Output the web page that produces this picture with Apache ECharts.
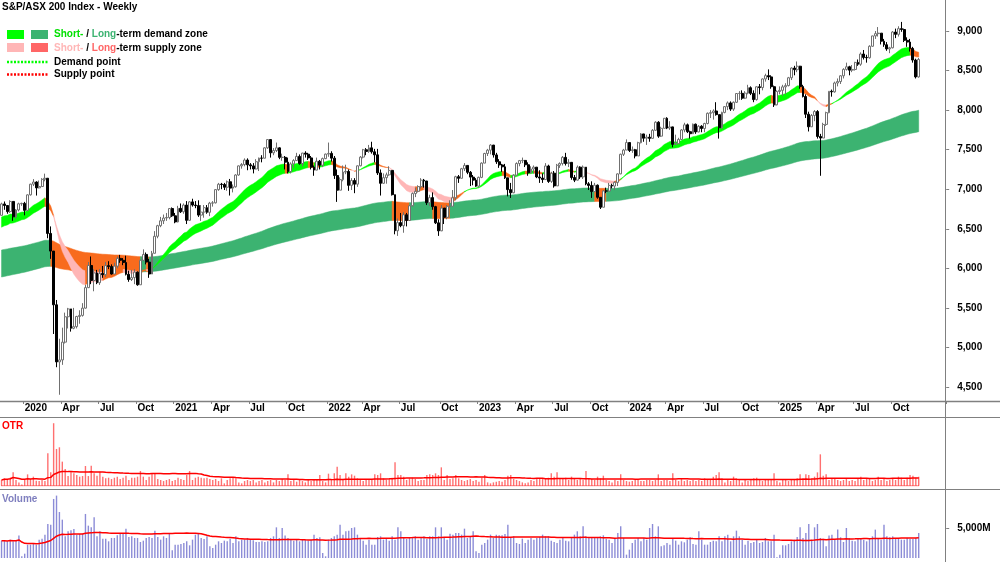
<!DOCTYPE html>
<html><head><meta charset="utf-8">
<script src="https://cdn.jsdelivr.net/npm/echarts@6/dist/echarts.min.js"></script>
<style>html,body{margin:0;padding:0;background:#fff}#c{width:1000px;height:562px}</style>
</head><body><div id="c"></div>
<script>
// ---------------- DATA ----------------
const firstWeek = Date.UTC(2019, 10, 8);   // week ending Fri 8 Nov 2019
const axisSlots = 327;                     // weekly slots on the time axis (incl. blank right margin)
const firstOpen = 6670;

const close = [
6814,6794,6717,6846,6651,6738,6816,6821,
6733,6929,7064,7091,7017,7034,7125,7139,6441,6218,5539,4817,4842,
5067,5388,5487,5242,5263,5391,5405,5497,5756,6036,5847,5942,5818,
5934,5920,6034,6023,5928,6028,6126,6102,6073,5925,5859,5882,5952,
5792,6102,6176,6079,5928,6190,6405,6539,6601,6636,6643,6756,6664,6587,
6758,6715,6800,6607,6840,6800,6793,6673,6711,6767,6708,6824,6828,
6995,7063,7060,7025,7094,7014,7031,7180,7295,7312,7369,7308,
7295,7256,7348,7393,7392,7523,7628,7460,7489,7523,7403,7403,7342,
7223,7320,7362,7415,7324,7457,7443,7396,7279,7242,7354,7304,7387,7444,
7453,7393,7173,6988,7121,7217,7225,7049,7110,7064,7296,7406,
7499,7478,7523,7473,7435,7206,7075,7146,7182,7238,6931,6475,6578,
6539,6677,6605,6791,6945,6974,7033,7115,7104,6829,6894,6780,6575,6474,
6762,6645,6784,6785,6892,7158,7138,7259,7301,7214,7153,7115,7039,
7150,7330,7452,7494,7558,7434,7347,7307,7283,7144,6995,6955,7178,
7325,7362,7364,7309,7207,7256,7279,7155,7141,7122,7294,7099,7203,
7042,7303,7325,7403,7325,7340,7148,7115,7279,7156,7279,7068,7048,
6970,7051,6898,6772,6978,6977,7049,7040,7087,7194,7442,7495,7590,
7489,7499,7421,7588,7699,7645,7658,7643,7745,7847,7671,7770,7897,
7773,7788,7567,7575,7629,7749,7814,7727,7702,7822,7724,7796,7768,
7831,7960,7968,7989,7943,7778,7971,8044,8091,8013,8099,8210,8212,
8151,8215,8283,8212,8133,8295,8285,8394,8436,8420,8296,8067,8235,
8250,8294,8310,8409,8532,8511,8555,8297,8172,7948,7789,7932,7982,
7667,7647,7819,7968,8238,8231,8343,8361,8434,8515,8548,8505,8514,
8603,8580,8709,8666,8662,8807,8938,8967,8973,8871,8826,8774,8788,
8987,8958,9030,9019,8882,8860,8780,8633,8420,8640
];
const high = [
6830,6845,6800,6860,6850,6750,6830,6830,
6840,6935,7070,7128,7100,7110,7140,7197,7139,6530,6218,5600,5110,
5250,5440,5500,5480,5500,5400,5470,5560,5790,6080,6150,5990,5980,
5990,6030,6080,6090,6050,6070,6150,6170,6130,6160,5970,5980,5990,
5960,6110,6240,6200,6120,6220,6470,6550,6650,6680,6700,6760,6770,6700,
6790,6820,6820,6850,6850,6880,6850,6860,6800,6800,6800,6840,6850,
7000,7080,7080,7080,7110,7130,7060,7190,7300,7330,7390,7390,
7330,7330,7380,7400,7430,7530,7632,7630,7520,7590,7530,7450,7420,
7400,7340,7380,7460,7440,7460,7480,7460,7420,7300,7400,7370,7400,7450,
7590,7480,7420,7250,7150,7300,7310,7250,7140,7140,7300,7420,
7510,7520,7560,7600,7510,7510,7250,7200,7210,7290,7240,6900,6630,
6700,6710,6700,6800,6960,7020,7050,7140,7130,7040,6930,6960,6790,6620,
6800,6750,6800,6860,6990,7170,7180,7270,7330,7300,7230,7180,7140,
7160,7340,7460,7510,7570,7560,7460,7380,7320,7320,7140,7080,7190,
7340,7370,7400,7370,7340,7290,7300,7280,7240,7200,7330,7310,7220,
7230,7320,7340,7420,7460,7380,7340,7180,7300,7290,7300,7280,7090,
7100,7080,7060,6900,6990,7020,7080,7070,7100,7200,7450,7510,7630,
7590,7540,7510,7600,7710,7700,7690,7700,7760,7860,7860,7790,7900,
7910,7860,7790,7690,7650,7760,7840,7830,7740,7830,7830,7810,7810,
7840,7970,8000,8010,8100,7940,7980,8050,8110,8110,8110,8210,8240,
8250,8240,8320,8300,8250,8300,8330,8400,8460,8515,8440,8310,8250,
8300,8320,8340,8420,8540,8560,8615,8560,8320,8200,7980,7950,8000,
8000,7700,7840,7980,8240,8260,8360,8400,8440,8530,8600,8560,8570,
8610,8640,8730,8760,8700,8820,8940,9000,9050,8970,8900,8860,8800,
9000,9030,9060,9115,9030,8920,8900,8800,8650,8660
];
const low = [
6680,6740,6690,6700,6600,6630,6720,6790,
6670,6720,6920,7040,6920,7010,7030,7100,6380,6120,5170,4750,4402,
4780,5050,5240,5200,5230,5240,5300,5390,5490,5750,5800,5710,5800,
5790,5880,5890,5990,5920,5930,6000,6070,6040,5910,5830,5840,5800,
5780,5800,6090,6050,5880,5930,6190,6380,6520,6560,6600,6620,6650,6570,
6580,6700,6690,6560,6600,6780,6760,6650,6600,6640,6690,6660,6780,
6820,6980,7000,6990,6980,6920,6960,7020,7170,7260,7290,7240,
7250,7200,7250,7230,7340,7390,7510,7400,7430,7470,7380,7360,7250,
7200,7200,7270,7360,7310,7290,7400,7370,7250,7170,7240,7250,7280,7380,
7410,7350,7130,6840,6990,7100,7190,6980,6990,6950,7030,7290,
7390,7430,7460,7450,7340,7180,6920,7070,7070,7170,6920,6430,6410,
6520,6450,6530,6600,6780,6900,6960,7010,7020,6800,6790,6740,6560,6410,
6470,6560,6620,6770,6790,6860,7080,7140,7230,7190,7040,7050,7030,
7020,7140,7330,7420,7440,7400,7320,7270,7220,7130,6910,6890,6950,
7170,7290,7330,7280,7170,7200,7200,7140,7080,7080,7120,7080,7080,
7020,7040,7270,7300,7300,7280,7120,7090,7110,7130,7130,7050,6990,
6890,6970,6880,6750,6780,6950,6970,7010,6990,7040,7190,7420,7500,
7470,7460,7390,7420,7580,7600,7560,7600,7640,7740,7650,7660,7770,
7760,7750,7530,7560,7570,7630,7720,7710,7640,7700,7700,7720,7720,
7720,7820,7900,7880,7930,7640,7760,7960,8000,7990,7990,8090,8130,
8130,8140,8200,8190,8100,8120,8200,8250,8360,8380,8270,8040,8060,
8200,8180,8200,8300,8380,8440,8480,8270,8160,7900,7730,7800,7860,
7640,7170,7650,7800,7960,8170,8220,8300,8330,8400,8500,8440,8480,
8500,8560,8560,8640,8600,8650,8800,8900,8930,8830,8800,8750,8720,
8780,8910,8930,8990,8860,8800,8740,8600,8400,8410
];
const otr = [
99,128,116,139,232,99,58,23,
99,197,116,157,87,81,99,81,563,232,1085,638,667,
418,290,168,255,215,186,157,168,342,168,348,215,174,
244,157,128,139,116,139,157,116,139,174,99,139,139,
157,255,157,99,157,209,209,116,99,81,99,116,81,99,
139,116,99,186,255,99,139,157,139,128,139,116,99,
116,81,128,41,99,128,139,128,58,41,81,99,
81,99,58,81,99,58,81,99,58,99,81,116,99,
197,81,99,70,99,81,58,99,81,99,99,186,81,58,
209,99,215,331,186,116,215,157,197,174,128,99,
81,99,116,99,197,186,215,128,99,116,139,406,186,
186,157,99,128,139,116,81,99,99,186,197,186,215,186,
319,99,186,116,128,186,128,99,81,99,116,81,99,
70,139,186,58,41,58,70,81,70,99,174,186,116,
99,81,58,41,58,99,81,128,128,116,116,139,215,
157,232,128,116,139,99,157,128,99,128,99,255,128,
116,99,157,128,174,99,81,58,99,81,197,99,81,
70,81,99,99,81,81,99,99,81,99,197,81,99,
99,81,215,99,81,116,81,99,81,99,81,99,81,
128,116,99,157,186,232,128,58,99,81,157,128,99,
58,99,81,99,128,139,99,81,99,116,99,215,81,
58,99,116,81,99,99,128,197,128,197,186,128,157,
232,545,174,197,99,128,116,99,81,99,116,81,99,
81,128,157,99,116,128,81,99,157,99,128,81,99,
128,99,157,139,99,139,186,174,139,157
];
const volume = [
2890,2890,2780,3060,2780,2890,3730,280,
720,2220,2220,2340,2220,3060,3220,3890,5670,5560,9840,10400,7670,
6390,3610,4450,4610,4840,3890,4000,4060,7340,5390,5110,6780,3610,
4450,3220,3220,2780,3340,3340,3780,4170,4000,4890,3500,3610,3340,
3340,2670,2890,3340,3500,3340,4560,3500,3060,3610,3340,4170,1280,2220,
2220,2340,2500,2780,2110,3060,3890,4000,3340,3170,3610,1950,1670,
2220,2780,2500,2890,2780,3220,2500,3610,2780,3060,3060,3340,
3060,2950,2670,2670,2780,2670,2780,3340,3610,5110,3340,5000,3730,
3340,3060,2890,3060,2780,3060,3060,2890,3060,3890,3340,3450,830,280,
3060,3340,3610,3890,5560,3890,4450,4560,5000,5110,3890,3220,
2890,2220,3060,2220,2220,3500,3610,3060,3340,2890,3610,3060,5110,
4450,3340,3170,3340,3450,3610,3060,3450,3610,3170,3610,3610,5110,3610,
5110,3340,3060,4060,3890,4170,4170,3890,4890,3340,3610,4450,1110,
830,2220,2500,3060,3890,3340,3890,3780,3780,4000,5560,3340,3610,
2500,2340,3220,2500,3060,3340,3060,3340,3500,3890,3610,3610,2890,
2670,2500,3060,3340,2890,2780,3450,3890,4450,3610,5280,3610,3340,
3340,3340,3340,3610,3780,3220,3060,2500,3340,4170,5280,3340,560,
1390,2500,3060,3340,2780,3340,3060,5000,5670,3610,5280,1950,2110,
2500,2220,3340,2890,2220,2780,2610,3060,3450,2340,2220,4450,3060,
2220,2220,2670,2890,2780,3610,2780,3610,3890,2780,3610,4560,3610,
3060,2220,2890,2500,2670,3060,2500,2670,3340,2780,2780,3890,110,
560,2110,2110,2340,2780,3060,3500,5110,3340,4170,5670,3060,5110,
5670,3340,3220,1950,3730,3890,3060,4730,3450,2670,5000,3340,2890,
2780,3220,3340,3060,2780,3220,3610,4730,3220,3060,5560,3610,3450,
3610,3220,3340,3060,3060,3340,3170,3170,3340,4170
];
const priceTicks = [4500,5000,5500,6000,6500,7000,7500,8000,8500,9000];
const volumeTicks = [5000];
const monthNames = ['Jan','Feb','Mar','Apr','May','Jun','Jul','Aug','Sep','Oct','Nov','Dec'];
// zone settings: EMA lengths and the zone edge values read at the first week
const shortZone = {fast: 20, slow: 30, seedFast: 6650, seedSlow: 6520};
const longZone  = {fast: 150, slow: 220, seedFast: 6232, seedSlow: 5890};

// ---------------- BUILD ----------------
const N = close.length;
const cats = [];
for (let i = 0; i < axisSlots; i++) cats.push(new Date(firstWeek + i * 7 * 864e5).toISOString().slice(0, 10));
const open = close.map((c, i) => i === 0 ? firstOpen : close[i - 1]);
const candles = close.map((c, i) => [open[i], c, Math.min(low[i], open[i], c), Math.max(high[i], open[i], c)]);

function ema(src, n, seed) { const a = 2 / (n + 1); let e = seed; return src.map((v, i) => { if (i > 0) e += a * (v - e); return e; }); }
function sma(src, n) { return src.map((v, i) => { const s = Math.max(0, i - n + 1); let t = 0; for (let j = s; j <= i; j++) t += src[j]; return t / (i - s + 1); }); }

// zone state: turns to supply when the close falls below the middle of the zone,
// back to demand when the close rises above the top of the zone
function zone(z) {
  const f = ema(close, z.fast, z.seedFast), s = ema(close, z.slow, z.seedSlow);
  const top = f.map((v, i) => Math.max(v, s[i])), bot = f.map((v, i) => Math.min(v, s[i]));
  const state = []; let st = 1;
  for (let i = 0; i < N; i++) { if (close[i] < (top[i] + bot[i]) / 2) st = 0; else if (close[i] > top[i]) st = 1; state.push(st); }
  return {f, s, top, bot, state};
}
const SZ = zone(shortZone), LZ = zone(longZone);
// colour code per week: 0 green, 1 pink, 2 orange, 3 dark green
const shortCode = SZ.state.map((st, i) => (st === 1 && SZ.f[i] >= SZ.s[i]) ? 0 : (st === 0 && SZ.f[i] < SZ.s[i]) ? 1 : 2);
const longCode = LZ.state.map(st => st === 1 ? 3 : 2);
const zoneColors = ['#00FF00', '#FFB6B6', '#F86B1D', '#3CB371'];

function runsOf(codes) {
  const runs = []; let s = 0, c = codes[1];
  for (let i = 2; i < codes.length; i++) { if (codes[i] !== c) { runs.push([s, i - 1, c]); s = i - 1; c = codes[i]; } }
  runs.push([s, codes.length - 1, c]);
  return runs;
}
function bandSeries(Z, codes, z) {
  const runs = runsOf(codes);
  return {
    type: 'custom', xAxisIndex: 0, yAxisIndex: 0, z: z, silent: true,
    data: runs, encode: {x: [0, 1]},
    renderItem: function (params, api) {
      const r = runs[params.dataIndex]; const pts = [];
      for (let j = r[0]; j <= r[1]; j++) pts.push(api.coord([j, Z.top[j]]));
      for (let j = r[1]; j >= r[0]; j--) pts.push(api.coord([j, Z.bot[j]]));
      const col = zoneColors[r[2]];
      return {type: 'polygon', shape: {points: pts}, style: {fill: col, stroke: col, lineWidth: 0.5}};
    }
  };
}

function quarterStart(i) {
  if (i <= 0 || i >= N) return false;
  const m = +cats[i].slice(5, 7) - 1, pm = +cats[i - 1].slice(5, 7) - 1;
  return m !== pm && m % 3 === 0;
}
const FONT = '"Liberation Sans", Arial, sans-serif';
const gridPos = {left: 0.1, width: 946.1};

const option = {
  animation: false,
  backgroundColor: '#fff',
  grid: [
    Object.assign({top: 0, height: 401}, gridPos),
    Object.assign({top: 417, height: 72}, gridPos),
    Object.assign({top: 489, height: 69}, gridPos)
  ],
  xAxis: [
    {type: 'category', gridIndex: 0, data: cats, boundaryGap: true,
     axisLine: {show: false},
     axisTick: {show: true, length: 3, interval: quarterStart, lineStyle: {color: '#808080'}},
     axisLabel: {interval: quarterStart, align: 'left', margin: 2, fontSize: 10, fontWeight: 'bold', color: '#000', fontFamily: FONT,
       formatter: v => { const m = +v.slice(5, 7) - 1; return m === 0 ? v.slice(0, 4) : monthNames[m]; }},
     splitLine: {show: false}},
    {type: 'category', gridIndex: 1, data: cats, show: false},
    {type: 'category', gridIndex: 2, data: cats, show: false}
  ],
  yAxis: [
    {type: 'value', gridIndex: 0, position: 'right', min: 4323, max: 9392, splitLine: {show: false},
     axisLine: {show: false},
     axisTick: {show: true, length: 3, customValues: priceTicks, lineStyle: {color: '#808080'}},
     axisLabel: {customValues: priceTicks, margin: 11, fontSize: 10, fontWeight: 'bold', color: '#000', fontFamily: FONT,
       formatter: v => v.toLocaleString('en-US')}},
    {type: 'value', gridIndex: 1, min: -57, max: 1193, show: false},
    {type: 'value', gridIndex: 2, position: 'right', min: 0, max: 11500, splitLine: {show: false},
     axisLine: {show: false},
     axisTick: {show: true, length: 3, customValues: volumeTicks, lineStyle: {color: '#808080'}},
     axisLabel: {customValues: volumeTicks, margin: 11, fontSize: 10, fontWeight: 'bold', color: '#000', fontFamily: FONT,
       formatter: v => v.toLocaleString('en-US') + 'M'}}
  ],
  series: [
    bandSeries(LZ, longCode, 1),
    bandSeries(SZ, shortCode, 2),
    {type: 'candlestick', xAxisIndex: 0, yAxisIndex: 0, z: 5, data: candles, barWidth: 2.4,
     itemStyle: {color: '#ffffff', color0: '#000000', borderColor: '#707070', borderColor0: '#000000', borderWidth: 1}},
    {type: 'bar', xAxisIndex: 1, yAxisIndex: 1, data: otr, barWidth: 1.4, itemStyle: {color: '#ff7070'}, z: 2},
    {type: 'line', xAxisIndex: 1, yAxisIndex: 1, data: otr.map(() => 0), symbol: 'none', lineStyle: {color: '#ff0000', width: 1, type: [1, 1]}, z: 3},
    {type: 'line', xAxisIndex: 1, yAxisIndex: 1, data: sma(otr, 52), symbol: 'none', lineStyle: {color: '#ff0000', width: 1.5}, z: 3},
    {type: 'bar', xAxisIndex: 2, yAxisIndex: 2, data: volume, barWidth: 1.4, itemStyle: {color: '#8c8cd7'}, z: 2},
    {type: 'line', xAxisIndex: 2, yAxisIndex: 2, data: sma(volume, 52), symbol: 'none', lineStyle: {color: '#ff0000', width: 1.5}, z: 3}
  ],
  graphic: [
    {type: 'line', shape: {x1: 0, y1: 401.5, x2: 1000, y2: 401.5}, style: {stroke: '#808080', lineWidth: 1.3}, z: 10},
    {type: 'line', shape: {x1: 0, y1: 417.5, x2: 1000, y2: 417.5}, style: {stroke: '#808080', lineWidth: 1}, z: 10},
    {type: 'line', shape: {x1: 0, y1: 489.5, x2: 1000, y2: 489.5}, style: {stroke: '#808080', lineWidth: 1}, z: 10},
    {type: 'line', shape: {x1: 945.5, y1: 0, x2: 945.5, y2: 562}, style: {stroke: '#808080', lineWidth: 1}, z: 10},
    {type: 'text', x: 2, y: 2, style: {text: 'S&P/ASX 200 Index - Weekly', font: 'bold 10px ' + FONT, fill: '#000'}, z: 10},
    {type: 'rect', shape: {x: 7, y: 30, width: 17, height: 9}, style: {fill: '#00FF00'}, z: 10},
    {type: 'rect', shape: {x: 31, y: 30, width: 17, height: 9}, style: {fill: '#3CB371'}, z: 10},
    {type: 'rect', shape: {x: 7, y: 43, width: 17, height: 9}, style: {fill: '#FFB6B6'}, z: 10},
    {type: 'rect', shape: {x: 31, y: 43, width: 17, height: 9}, style: {fill: '#FF6666'}, z: 10},
    {type: 'line', shape: {x1: 7, y1: 62, x2: 48, y2: 62}, style: {stroke: '#00FF00', lineWidth: 2.5, lineDash: [2, 1.5]}, z: 10},
    {type: 'line', shape: {x1: 7, y1: 74.5, x2: 48, y2: 74.5}, style: {stroke: '#FF0000', lineWidth: 2.5, lineDash: [2, 1.5]}, z: 10},
    {type: 'text', x: 54, y: 34.5, z: 10, style: {text: '{a|Short-} / {b|Long}-term demand zone', font: 'bold 10px ' + FONT, fill: '#000', verticalAlign: 'middle',
      rich: {a: {fill: '#00E000', font: 'bold 10px ' + FONT}, b: {fill: '#3CB371', font: 'bold 10px ' + FONT}}}},
    {type: 'text', x: 54, y: 48, z: 10, style: {text: '{a|Short-} / {b|Long}-term supply zone', font: 'bold 10px ' + FONT, fill: '#000', verticalAlign: 'middle',
      rich: {a: {fill: '#FFB6B6', font: 'bold 10px ' + FONT}, b: {fill: '#FF6666', font: 'bold 10px ' + FONT}}}},
    {type: 'text', x: 54, y: 62, z: 10, style: {text: 'Demand point', font: 'bold 10px ' + FONT, fill: '#000', verticalAlign: 'middle'}},
    {type: 'text', x: 54, y: 74.5, z: 10, style: {text: 'Supply point', font: 'bold 10px ' + FONT, fill: '#000', verticalAlign: 'middle'}},
    {type: 'text', x: 2, y: 421, z: 10, style: {text: 'OTR', font: 'bold 10px ' + FONT, fill: '#FF0000'}},
    {type: 'text', x: 2, y: 494, z: 10, style: {text: 'Volume', font: 'bold 10px ' + FONT, fill: '#7F7FBF'}}
  ]
};
const chart = echarts.init(document.getElementById('c'));
chart.setOption(option);
</script></body></html>
